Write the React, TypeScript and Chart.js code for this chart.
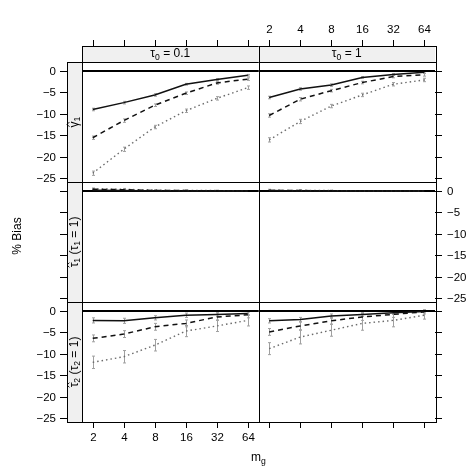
import React, { useEffect, useRef } from "react";
import { Chart, registerables } from "chart.js";

Chart.register(...registerables);

// x: number of groups (log2 axis), y: % bias
const MG = [2, 4, 8, 16, 32, 64];
const Y_TICKS = [0, -5, -10, -15, -20, -25];
const TAU0 = ["0.1", "1"];

// row 1: gamma1-hat
const G1_T01_SOLID = [-9.0, -7.4, -5.6, -3.1, -2.0, -1.0];
const G1_T01_DASH = [-15.6, -11.6, -8.0, -5.2, -2.8, -1.9];
const G1_T01_DOT = [-23.9, -18.3, -13.1, -9.3, -6.4, -3.9];
const G1_T1_SOLID = [-6.2, -4.2, -3.3, -1.5, -0.8, -0.3];
const G1_T1_DASH = [-10.4, -6.6, -4.6, -2.7, -1.3, -0.9];
const G1_T1_DOT = [-16.1, -11.8, -8.2, -5.6, -3.1, -2.1];

// row 2: tau1-hat (tau1 = 1)
const T1_T01_SOLID = [0.2, 0.1, 0.0, 0.0, 0.0, 0.0];
const T1_T01_DASH = [0.4, 0.3, 0.1, 0.1, 0.0, 0.0];
const T1_T01_DOT = [0.5, 0.4, 0.2, 0.1, 0.1, 0.0];
const T1_T1_SOLID = [0.1, 0.0, 0.0, 0.0, 0.0, 0.0];
const T1_T1_DASH = [0.1, 0.1, 0.0, 0.0, 0.0, 0.0];
const T1_T1_DOT = [0.2, 0.1, 0.1, 0.0, 0.0, 0.0];

// row 3: tau2-hat (tau2 = 1)
const T2_T01_SOLID = [-2.2, -2.3, -1.6, -1.0, -0.8, -0.6];
const T2_T01_DASH = [-6.4, -5.4, -3.7, -2.9, -1.4, -0.9];
const T2_T01_DOT = [-12.0, -10.7, -8.0, -4.7, -3.5, -2.2];
const T2_T1_SOLID = [-2.3, -2.0, -1.2, -0.8, -0.4, -0.1];
const T2_T1_DASH = [-4.9, -3.5, -2.3, -1.4, -0.8, -0.2];
const T2_T1_DOT = [-8.8, -6.1, -4.5, -2.9, -2.2, -1.0];

// half-widths of the error bars
const ERR_ROW1 = [
  [0.3, 0.3, 0.3, 0.2, 0.2, 0.2],
  [0.4, 0.4, 0.3, 0.3, 0.3, 0.3],
  [0.5, 0.5, 0.4, 0.4, 0.4, 0.4],
];
const ERR_ROW2 = [
  [0.1, 0.1, 0.1, 0.1, 0.1, 0.1],
  [0.1, 0.1, 0.1, 0.1, 0.1, 0.1],
  [0.2, 0.2, 0.1, 0.1, 0.1, 0.1],
];
const ERR_ROW3_T01 = [
  [0.6, 0.6, 0.5, 0.5, 0.4, 0.4],
  [0.8, 0.8, 0.8, 0.8, 0.7, 0.7],
  [1.45, 1.45, 1.35, 1.3, 1.3, 1.3],
];
const ERR_ROW3_T1 = [
  [0.5, 0.5, 0.5, 0.4, 0.4, 0.3],
  [0.8, 0.9, 0.8, 0.8, 0.7, 0.5],
  [1.4, 1.6, 1.4, 1.6, 1.5, 0.9],
];

const X_IDS = ["xL", "xR"];
const Y_IDS = ["yTop", "yMid", "yBot"];

const PANELS = [
  { x: "xL", y: "yTop", series: [G1_T01_SOLID, G1_T01_DASH, G1_T01_DOT], err: ERR_ROW1 },
  { x: "xR", y: "yTop", series: [G1_T1_SOLID, G1_T1_DASH, G1_T1_DOT], err: ERR_ROW1 },
  { x: "xL", y: "yMid", series: [T1_T01_SOLID, T1_T01_DASH, T1_T01_DOT], err: ERR_ROW2 },
  { x: "xR", y: "yMid", series: [T1_T1_SOLID, T1_T1_DASH, T1_T1_DOT], err: ERR_ROW2 },
  { x: "xL", y: "yBot", series: [T2_T01_SOLID, T2_T01_DASH, T2_T01_DOT], err: ERR_ROW3_T01 },
  { x: "xR", y: "yBot", series: [T2_T1_SOLID, T2_T1_DASH, T2_T1_DOT], err: ERR_ROW3_T1 },
];

const LINE_STYLES = [
  { color: "#111111", dash: [] as number[], width: 1.5 },
  { color: "#111111", dash: [5, 4], width: 1.5 },
  { color: "#6a6a6a", dash: [1.5, 3], width: 1.4 },
];

const FONT = "'Liberation Sans', Arial, Helvetica, sans-serif";

type Part = { t: string; sub?: boolean; hat?: boolean };

function drawRich(ctx: CanvasRenderingContext2D, parts: Part[], x: number, y: number, size: number) {
  const base = `${size}px ${FONT}`;
  const small = `${size * 0.72}px ${FONT}`;
  const widths = parts.map((p) => {
    ctx.font = p.sub ? small : base;
    return ctx.measureText(p.t).width;
  });
  const total = widths.reduce((a, b) => a + b, 0);
  let cx = x - total / 2;
  ctx.textAlign = "left";
  ctx.textBaseline = "middle";
  parts.forEach((p, i) => {
    ctx.font = p.sub ? small : base;
    ctx.fillText(p.t, cx, y + (p.sub ? size * 0.3 : 0));
    if (p.hat) {
      const mx = cx + widths[i] / 2;
      ctx.beginPath();
      ctx.moveTo(mx - size * 0.2, y - size * 0.42);
      ctx.lineTo(mx, y - size * 0.62);
      ctx.lineTo(mx + size * 0.2, y - size * 0.42);
      ctx.lineWidth = 0.9;
      ctx.stroke();
    }
    cx += widths[i];
  });
}

const ROW_LABELS: Part[][] = [
  [{ t: "γ", hat: true }, { t: "1", sub: true }],
  [{ t: "τ", hat: true }, { t: "1", sub: true }, { t: " (τ" }, { t: "1", sub: true }, { t: " = 1)" }],
  [{ t: "τ", hat: true }, { t: "2", sub: true }, { t: " (τ" }, { t: "2", sub: true }, { t: " = 1)" }],
];

const fmt = (v: number) => (v < 0 ? "\u2212" + Math.abs(v) : String(v));

const latticePlugin = {
  id: "lattice",
  beforeDatasetsDraw(chart: any) {
    const ctx: CanvasRenderingContext2D = chart.ctx;
    ctx.save();
    // error bars
    ctx.strokeStyle = "#a0a0a0";
    ctx.lineWidth = 1;
    chart.data.datasets.forEach((ds: any) => {
      const xs = chart.scales[ds.xAxisID];
      const ys = chart.scales[ds.yAxisID];
      ds.data.forEach((p: any, i: number) => {
        const e = ds.errors[i];
        const px = Math.round(xs.getPixelForValue(p.x)) + 0.5;
        const y1 = ys.getPixelForValue(p.y + e);
        const y2 = ys.getPixelForValue(p.y - e);
        ctx.beginPath();
        ctx.moveTo(px, y1);
        ctx.lineTo(px, y2);
        ctx.moveTo(px - 1.5, y1);
        ctx.lineTo(px + 1.5, y1);
        ctx.moveTo(px - 1.5, y2);
        ctx.lineTo(px + 1.5, y2);
        ctx.stroke();
      });
    });
    // reference line at zero
    ctx.strokeStyle = "#000";
    ctx.lineWidth = 2;
    Y_IDS.forEach((yId) =>
      X_IDS.forEach((xId) => {
        const xs = chart.scales[xId];
        const y0 = chart.scales[yId].getPixelForValue(0);
        ctx.beginPath();
        ctx.moveTo(xs.left, y0);
        ctx.lineTo(xs.right, y0);
        ctx.stroke();
      })
    );
    ctx.restore();
  },
  afterDraw(chart: any) {
    const ctx: CanvasRenderingContext2D = chart.ctx;
    const area = chart.chartArea;
    const stripH = 16;
    const stripW = 15;
    ctx.save();
    ctx.strokeStyle = "#000";
    ctx.fillStyle = "#000";
    ctx.lineWidth = 1;

    // panel borders
    Y_IDS.forEach((yId) =>
      X_IDS.forEach((xId) => {
        const xs = chart.scales[xId];
        const ys = chart.scales[yId];
        ctx.strokeRect(Math.round(xs.left) + 0.5, Math.round(ys.top) + 0.5, Math.round(xs.right - xs.left), Math.round(ys.bottom - ys.top));
      })
    );

    // top strips
    X_IDS.forEach((xId, c) => {
      const xs = chart.scales[xId];
      const top = Math.round(area.top - stripH) + 0.5;
      ctx.fillStyle = "#f0f0f0";
      ctx.fillRect(xs.left, top, xs.right - xs.left, stripH);
      ctx.strokeRect(Math.round(xs.left) + 0.5, top, Math.round(xs.right - xs.left), stripH);
      ctx.fillStyle = "#000";
      drawRich(ctx, [{ t: "τ" }, { t: "0", sub: true }, { t: " = " + TAU0[c] }], (xs.left + xs.right) / 2, area.top - stripH / 2, 12);
    });

    // left strips
    Y_IDS.forEach((yId, r) => {
      const ys = chart.scales[yId];
      const left = Math.round(area.left - stripW) + 0.5;
      ctx.fillStyle = "#f0f0f0";
      ctx.fillRect(left, ys.top, stripW, ys.bottom - ys.top);
      ctx.strokeRect(left, Math.round(ys.top) + 0.5, stripW, Math.round(ys.bottom - ys.top));
      ctx.fillStyle = "#000";
      ctx.save();
      ctx.translate(area.left - stripW / 2, (ys.top + ys.bottom) / 2);
      ctx.rotate(-Math.PI / 2);
      drawRich(ctx, ROW_LABELS[r], 0, 0, 12);
      ctx.restore();
    });

    // y ticks: both sides, labels alternating
    ctx.font = `11.5px ${FONT}`;
    ctx.textBaseline = "middle";
    Y_IDS.forEach((yId, r) => {
      const ys = chart.scales[yId];
      Y_TICKS.forEach((v) => {
        const py = Math.round(ys.getPixelForValue(v)) + 0.5;
        const lx = area.left - stripW;
        ctx.beginPath();
        ctx.moveTo(lx - 7, py);
        ctx.lineTo(lx, py);
        ctx.moveTo(area.right, py);
        ctx.lineTo(area.right + 7, py);
        ctx.stroke();
        if (r === 1) {
          ctx.textAlign = "left";
          ctx.fillText(fmt(v), area.right + 12, py);
        } else {
          ctx.textAlign = "right";
          ctx.fillText(fmt(v), lx - 11, py);
        }
      });
    });

    // x ticks: top and bottom, labels alternating
    ctx.textAlign = "center";
    X_IDS.forEach((xId, c) => {
      const xs = chart.scales[xId];
      MG.forEach((m) => {
        const px = Math.round(xs.getPixelForValue(m)) + 0.5;
        const ty = area.top - stripH;
        ctx.beginPath();
        ctx.moveTo(px, ty - 6);
        ctx.lineTo(px, ty);
        ctx.moveTo(px, area.bottom);
        ctx.lineTo(px, area.bottom + 6);
        ctx.stroke();
        if (c === 0) ctx.fillText(String(m), px, area.bottom + 16);
        else ctx.fillText(String(m), px, ty - 16);
      });
    });

    // axis titles
    drawRich(ctx, [{ t: "m" }, { t: "g", sub: true }], (area.left + area.right) / 2, area.bottom + 36, 12);
    ctx.save();
    ctx.translate(18, (area.top - stripH + area.bottom) / 2 + 2);
    ctx.rotate(-Math.PI / 2);
    drawRich(ctx, [{ t: "% Bias" }], 0, 0, 12);
    ctx.restore();

    ctx.restore();
  },
};

export default function App() {
  const canvasRef = useRef<HTMLCanvasElement | null>(null);
  const chartRef = useRef<Chart | null>(null);

  useEffect(() => {
    if (!canvasRef.current) return;
    const ctx = canvasRef.current.getContext("2d");
    if (!ctx) return;
    if (chartRef.current) chartRef.current.destroy();

    const datasets: any[] = [];
    PANELS.forEach((panel) => {
      panel.series.forEach((values, s) => {
        datasets.push({
          label: `${panel.y}-${panel.x}-${s}`,
          data: MG.map((m, i) => ({ x: m, y: values[i] })),
          errors: panel.err[s],
          xAxisID: panel.x,
          yAxisID: panel.y,
          borderColor: LINE_STYLES[s].color,
          borderDash: LINE_STYLES[s].dash,
          borderWidth: LINE_STYLES[s].width,
          pointRadius: 0,
          tension: 0,
          fill: false,
        });
      });
    });

    const xScale = {
      type: "logarithmic",
      position: "bottom",
      stack: "cols",
      stackWeight: 1,
      min: 2 / Math.pow(2, 0.345),
      max: 64 * Math.pow(2, 0.345),
      display: false,
    };
    const yScale = {
      type: "linear",
      position: "right",
      stack: "rows",
      stackWeight: 1,
      min: -25.95,
      max: 2.1,
      display: false,
    };

    chartRef.current = new Chart(ctx, {
      type: "line",
      data: { datasets },
      options: {
        responsive: false,
        animation: false,
        parsing: false,
        normalized: true,
        layout: { padding: { left: 82, top: 62, right: 39, bottom: 52 } },
        plugins: { legend: { display: false }, tooltip: { enabled: false } },
        scales: {
          xL: { ...xScale },
          xR: { ...xScale },
          yTop: { ...yScale },
          yMid: { ...yScale },
          yBot: { ...yScale },
        } as any,
      },
      plugins: [latticePlugin],
    });

    return () => {
      if (chartRef.current) {
        chartRef.current.destroy();
        chartRef.current = null;
      }
    };
  }, []);

  return (
    <canvas
      ref={canvasRef}
      width={474}
      height={474}
      style={{ position: "fixed", left: 0, top: 0, width: 474, height: 474, background: "#fff" }}
    />
  );
}
